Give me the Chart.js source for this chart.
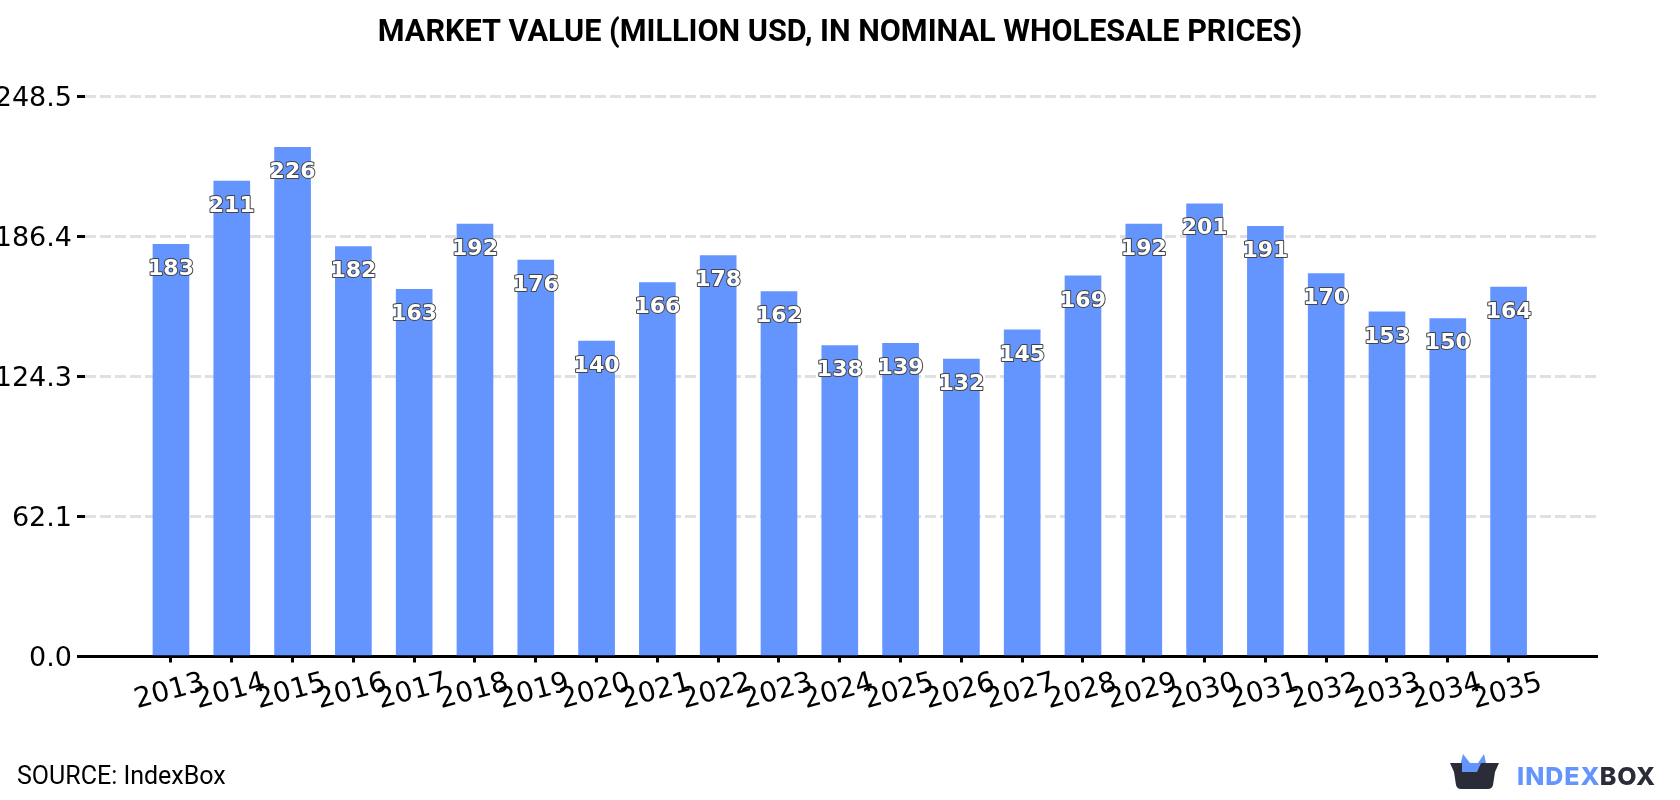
<!DOCTYPE html>
<html>
<head>
<meta charset="utf-8">
<title>Market value</title>
<script src="https://cdn.jsdelivr.net/npm/chart.js@4/dist/chart.umd.min.js"></script>
<style>
  html, body { margin: 0; padding: 0; background: #fff; }
  canvas { display: block; }
</style>
</head>
<body>
<canvas id="chart" width="1680" height="800"></canvas>
<script>
const years = [2013, 2014, 2015, 2016, 2017, 2018, 2019, 2020, 2021, 2022, 2023, 2024,
  2025, 2026, 2027, 2028, 2029, 2030, 2031, 2032, 2033, 2034, 2035];
const marketValue = [183, 211, 226, 182, 163, 192, 176, 140, 166, 178, 162, 138,
  139, 132, 145, 169, 192, 201, 191, 170, 153, 150, 164];
const yTicks = [0.0, 62.1, 124.3, 186.4, 248.5];

const BAR_BLUE = '#6495ff';
const LOGO_DARK = '#2a2c38';
const AXIS_FONT = 'DejaVu Sans';

// value labels sit inside the top of each bar
const barLabels = {
  id: 'barLabels',
  afterDatasetsDraw(chart) {
    const { ctx } = chart;
    const bars = chart.getDatasetMeta(0).data;
    ctx.save();
    ctx.font = 'bold 22px "DejaVu Sans"';
    ctx.textAlign = 'center';
    ctx.textBaseline = 'middle';
    ctx.lineJoin = 'round';
    bars.forEach((bar, i) => {
      const label = String(marketValue[i]);
      ctx.lineWidth = 2;
      ctx.strokeStyle = '#444';
      ctx.strokeText(label, bar.x, bar.y + 25);
      ctx.fillStyle = '#fff';
      ctx.fillText(label, bar.x, bar.y + 25);
    });
    ctx.restore();
  }
};

// source line and logo along the bottom edge
const footer = {
  id: 'footer',
  afterDraw(chart) {
    const { ctx } = chart;
    ctx.save();
    ctx.textBaseline = 'alphabetic';
    ctx.textAlign = 'left';
    ctx.fillStyle = '#000';
    ctx.font = '25px Roboto';
    ctx.fillText('SOURCE: IndexBox', 17, 784);

    ctx.fillStyle = BAR_BLUE;
    ctx.beginPath();
    ctx.moveTo(1461, 762);
    ctx.lineTo(1463, 754);
    ctx.lineTo(1470, 763);
    ctx.lineTo(1478, 763);
    ctx.lineTo(1484, 754);
    ctx.lineTo(1486, 763);
    ctx.lineTo(1486, 772);
    ctx.lineTo(1462, 772);
    ctx.closePath();
    ctx.fill();

    ctx.fillStyle = LOGO_DARK;
    ctx.beginPath();
    ctx.moveTo(1450, 763);
    ctx.lineTo(1462, 763);
    ctx.lineTo(1462, 772);
    ctx.lineTo(1477, 772);
    ctx.lineTo(1481, 763);
    ctx.lineTo(1499, 763);
    ctx.lineTo(1495, 772);
    ctx.lineTo(1493, 785);
    ctx.quadraticCurveTo(1492, 789, 1488, 789);
    ctx.lineTo(1461, 789);
    ctx.quadraticCurveTo(1457, 789, 1456, 785);
    ctx.lineTo(1454, 772);
    ctx.closePath();
    ctx.fill();

    ctx.font = '800 25px Inter';
    ctx.letterSpacing = '1px';
    ctx.fillStyle = BAR_BLUE;
    ctx.fillText('INDEX', 1517, 785);
    const indexWidth = ctx.measureText('INDEX').width;
    ctx.fillStyle = LOGO_DARK;
    ctx.fillText('BOX', 1517 + indexWidth - 1, 785);
    ctx.restore();
  }
};

const ctx = document.getElementById('chart').getContext('2d');
new Chart(ctx, {
  type: 'bar',
  data: {
    datasets: [{
      data: years.map((year, i) => ({ x: year, y: marketValue[i] })),
      backgroundColor: BAR_BLUE,
      borderWidth: 0,
      barThickness: 36
    }]
  },
  plugins: [barLabels, footer],
  options: {
    responsive: false,
    animation: false,
    plugins: {
      legend: { display: false },
      tooltip: { enabled: false },
      title: {
        display: true,
        text: 'MARKET VALUE (MILLION USD, IN NOMINAL WHOLESALE PRICES)',
        color: '#000',
        font: { family: 'Roboto', size: 30.6, weight: 'bold' },
        padding: { top: 15, bottom: 45 }
      }
    },
    scales: {
      x: {
        type: 'linear',
        offset: false,
        min: 2011.586,
        max: 2036.454,
        afterBuildTicks(scale) {
          scale.ticks = years.map(year => ({ value: year }));
        },
        afterFit(scale) {
          scale.height = 143.5;
        },
        border: { color: '#000', width: 3 },
        grid: { offset: false, drawOnChartArea: false, tickColor: '#000', tickLength: 6, tickWidth: 3 },
        ticks: {
          color: '#000',
          font: { family: AXIS_FONT, size: 28 },
          autoSkip: false,
          minRotation: 15,
          maxRotation: 15,
          labelOffset: 33,
          padding: 4,
          callback: value => String(value)
        }
      },
      y: {
        min: 0,
        max: 248.5,
        afterBuildTicks(scale) {
          scale.ticks = yTicks.map(v => ({ value: v }));
        },
        afterFit(scale) {
          scale.width = 85;
        },
        border: { display: false, dash: [11, 4] },
        grid: {
          color: '#e0e0e0',
          lineWidth: 3,
          tickColor: '#000',
          tickLength: 8,
          tickWidth: 3
        },
        ticks: {
          color: '#000',
          font: { family: AXIS_FONT, size: 27 },
          padding: 5,
          labelOffset: 2,
          callback: value => value.toFixed(1)
        }
      },
      // empty axis that keeps the plot clear of the right edge
      rightGap: {
        position: 'right',
        afterFit(scale) {
          scale.width = 83;
        },
        border: { display: false },
        grid: { display: false },
        ticks: { display: false }
      }
    }
  }
});
</script>
</body>
</html>
